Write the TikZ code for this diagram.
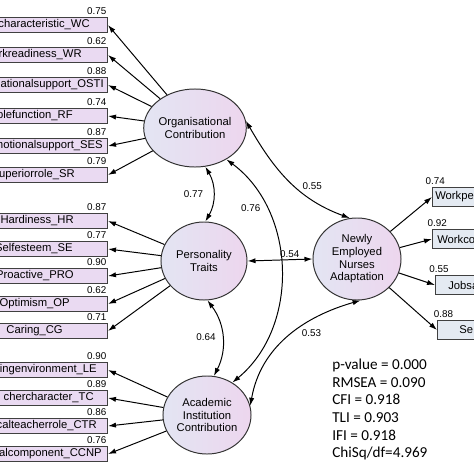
\documentclass[tikz,border=0pt]{standalone}
\usepackage{fontspec}
\setmainfont{Liberation Sans}
\newfontfamily\fitfont{Carlito}
\usepackage{tikz}
\usetikzlibrary{arrows.meta,positioning,shapes.geometric}
\definecolor{circL}{HTML}{E3E5F3}
\definecolor{circR}{HTML}{EDD6EE}
\definecolor{boxL}{HTML}{EADAF2}
\definecolor{boxR}{HTML}{E4EAF2}
\tikzset{
  latent/.style={ellipse, draw=black!80, line width=0.7pt, left color=circL, right color=circR,
                 align=center, font=\fontsize{8}{9}\selectfont, inner sep=0pt,
                 minimum width=2.15cm, minimum height=1.95cm},
  obs/.style={rectangle, draw=black!75, line width=0.9pt, fill=boxL, inner sep=0pt,
              minimum width=3.4cm, minimum height=0.39cm},
  obsr/.style={rectangle, draw=black!75, line width=0.9pt, fill=boxR, inner sep=0pt,
               minimum width=1.6cm, minimum height=0.48cm},
  otxt/.style={font=\fontsize{8}{9}\selectfont, inner sep=0pt},
  ld/.style={font=\fontsize{7}{8}\selectfont, inner sep=1pt},
  coef/.style={font=\fontsize{7}{8}\selectfont, inner sep=1pt},
  gof/.style={font=\fitfont\fontsize{10.8}{12.5}\selectfont, align=left, inner sep=0pt},
  reg/.style={-{Latex[length=2mm,width=1.3mm]}, line width=0.7pt},
  cov/.style={{Latex[length=2mm,width=1.3mm]}-{Latex[length=2mm,width=1.3mm]}, line width=0.7pt},
}
\begin{document}
\begin{tikzpicture}[x=0.025cm,y=-0.025cm]
\useasboundingbox (0,0) rectangle (474,474);
\clip (0,0) rectangle (474,474);
% latent variables
\node[latent] (org) at (195,128) {Organisational\\Contribution};
\node[latent] (pers) at (204,261) {Personality\\Traits};
\node[latent, minimum width=2.2cm] (acad) at (207,415) {Academic\\Institution\\Contribution};
\node[latent, minimum width=2.2cm, minimum height=2.05cm] (nen) at (357,259) {Newly\\Employed\\Nurses\\Adaptation};
% indicators, organisational contribution
\node[obs, anchor=east] (wc) at (108,25) {};
\node[obs, anchor=east] (wr) at (108,55) {};
\node[obs, anchor=east] (osti) at (108,85) {};
\node[obs, anchor=east] (rf) at (108,116) {};
\node[obs, anchor=east] (ses) at (108,146) {};
\node[obs, anchor=east] (sr) at (108,175) {};
\node[otxt, anchor=east] (t-wc) at (90,25) {characteristic\_WC};
\node[otxt, anchor=east] (t-wr) at (82,55) {rkreadiness\_WR};
\node[otxt, anchor=east] (t-osti) at (104,85) {ationalsupport\_OSTI};
\node[otxt, anchor=east] (t-rf) at (73,116) {olefunction\_RF};
\node[otxt, anchor=east] (t-ses) at (103,146) {motionalsupport\_SES};
\node[otxt, anchor=east] (t-sr) at (75,175) {uperiorrole\_SR};
% indicators, personality traits
\node[obs, anchor=east] (hr) at (108,221) {};
\node[obs, anchor=east] (se) at (108,249) {};
\node[obs, anchor=east] (pro) at (108,276) {};
\node[obs, anchor=east] (op) at (108,304) {};
\node[obs, anchor=east] (cg) at (108,331) {};
\node[otxt, anchor=east] (t-hr) at (74,221) {Hardiness\_HR};
\node[otxt, anchor=east] (t-se) at (73,249) {Selfesteem\_SE};
\node[otxt, anchor=east] (t-pro) at (74,276) {Proactive\_PRO};
\node[otxt, anchor=east] (t-op) at (70,304) {Optimism\_OP};
\node[otxt, anchor=east] (t-cg) at (63,331) {Caring\_CG};
% indicators, academic institution contribution
\node[obs, anchor=east] (le) at (108,370) {};
\node[obs, anchor=east] (tc) at (108,398) {};
\node[obs, anchor=east] (ctr) at (108,426) {};
\node[obs, anchor=east] (ccnp) at (108,454) {};
\node[otxt, anchor=east] (t-le) at (97,370) {ingenvironment\_LE};
\node[otxt, anchor=east] (t-tc) at (94,398) {chercharacter\_TC};
\node[otxt, anchor=east] (t-ctr) at (97,426) {calteacherrole\_CTR};
\node[otxt, anchor=east] (t-ccnp) at (102,454) {alcomponent\_CCNP};
% indicators, adaptation
\node[obsr, anchor=west] (wp) at (432,197) {};
\node[obsr, anchor=west] (wco) at (432,239) {};
\node[obsr, anchor=west] (js) at (435,285) {};
\node[obsr, anchor=west] (sef) at (437,330) {};
\node[otxt, anchor=west] (t-wp) at (435,197) {Workpe};
\node[otxt, anchor=west] (t-wco) at (437,239) {Workco};
\node[otxt, anchor=west] (t-js) at (448,285) {Jobsa};
\node[otxt, anchor=west] (t-sef) at (459,330) {Se};
% loadings
\node[ld, anchor=south east] (l-wc) at (wc.north east) {0.75};
\node[ld, anchor=south east] (l-wr) at (wr.north east) {0.62};
\node[ld, anchor=south east] (l-osti) at (osti.north east) {0.88};
\node[ld, anchor=south east] (l-rf) at (rf.north east) {0.74};
\node[ld, anchor=south east] (l-ses) at (ses.north east) {0.87};
\node[ld, anchor=south east] (l-sr) at (sr.north east) {0.79};
\node[ld, anchor=south east] (l-hr) at (hr.north east) {0.87};
\node[ld, anchor=south east] (l-se) at (se.north east) {0.77};
\node[ld, anchor=south east] (l-pro) at (pro.north east) {0.90};
\node[ld, anchor=south east] (l-op) at (op.north east) {0.62};
\node[ld, anchor=south east] (l-cg) at (cg.north east) {0.71};
\node[ld, anchor=south east] (l-le) at (le.north east) {0.90};
\node[ld, anchor=south east] (l-tc) at (tc.north east) {0.89};
\node[ld, anchor=south east] (l-ctr) at (ctr.north east) {0.86};
\node[ld, anchor=south east] (l-ccnp) at (ccnp.north east) {0.76};
\node[ld, anchor=south west, xshift=-0.2cm] (l-wp) at (wp.north west) {0.74};
\node[ld, anchor=south west, xshift=-0.15cm] (l-wco) at (wco.north west) {0.92};
\node[ld, anchor=south west, xshift=-0.18cm] (l-js) at (js.north west) {0.55};
\node[ld, anchor=south west, xshift=-0.12cm] (l-sef) at (sef.north west) {0.88};
% loading arrows
\draw[reg] (org) -- (wc.east);
\draw[reg] (org) -- (wr.east);
\draw[reg] (org) -- (osti.east);
\draw[reg] (org) -- (rf.east);
\draw[reg] (org) -- (ses.east);
\draw[reg] (org) -- (sr.east);
\draw[reg] (pers) -- (hr.east);
\draw[reg] (pers) -- (se.east);
\draw[reg] (pers) -- (pro.east);
\draw[reg] (pers) -- (op.east);
\draw[reg] (pers) -- (cg.east);
\draw[reg] (acad) -- (le.east);
\draw[reg] (acad) -- (tc.east);
\draw[reg] (acad) -- (ctr.east);
\draw[reg] (acad) -- (ccnp.east);
\draw[reg] (nen) -- (wp.west);
\draw[reg] (nen) -- (wco.west);
\draw[reg] (nen) -- (js.west);
\draw[reg] (nen) -- (sef.west);
% correlations
\draw[cov] (org.285) to[bend left=30] node[coef, left=6pt] {0.77} (pers.88);
\draw[cov] (pers.275) to[bend left=32] node[coef, left=3.5pt] {0.64} (acad.80);
\draw[cov] (org.-45) to[bend left=52] node[coef, pos=0.25, left=3pt] {0.76} (acad.52);
\draw[cov] (org.8) to[out=-60, in=160] node[coef, pos=0.62, above right] {0.55} (nen.100);
\draw[cov] (pers.east) -- node[coef, pos=0.65, above] {0.54} (nen.west);
\draw[cov] (acad.12) to[out=80, in=-164] node[coef, pos=0.6, below right] {0.53} (nen.-85);
% fit indices
\node[gof, anchor=north west] (fitidx) at (332,359) {p-value = 0.000\\RMSEA = 0.090\\CFI = 0.918\\TLI = 0.903\\IFI = 0.918\\ChiSq/df=4.969};
\end{tikzpicture}
\end{document}
